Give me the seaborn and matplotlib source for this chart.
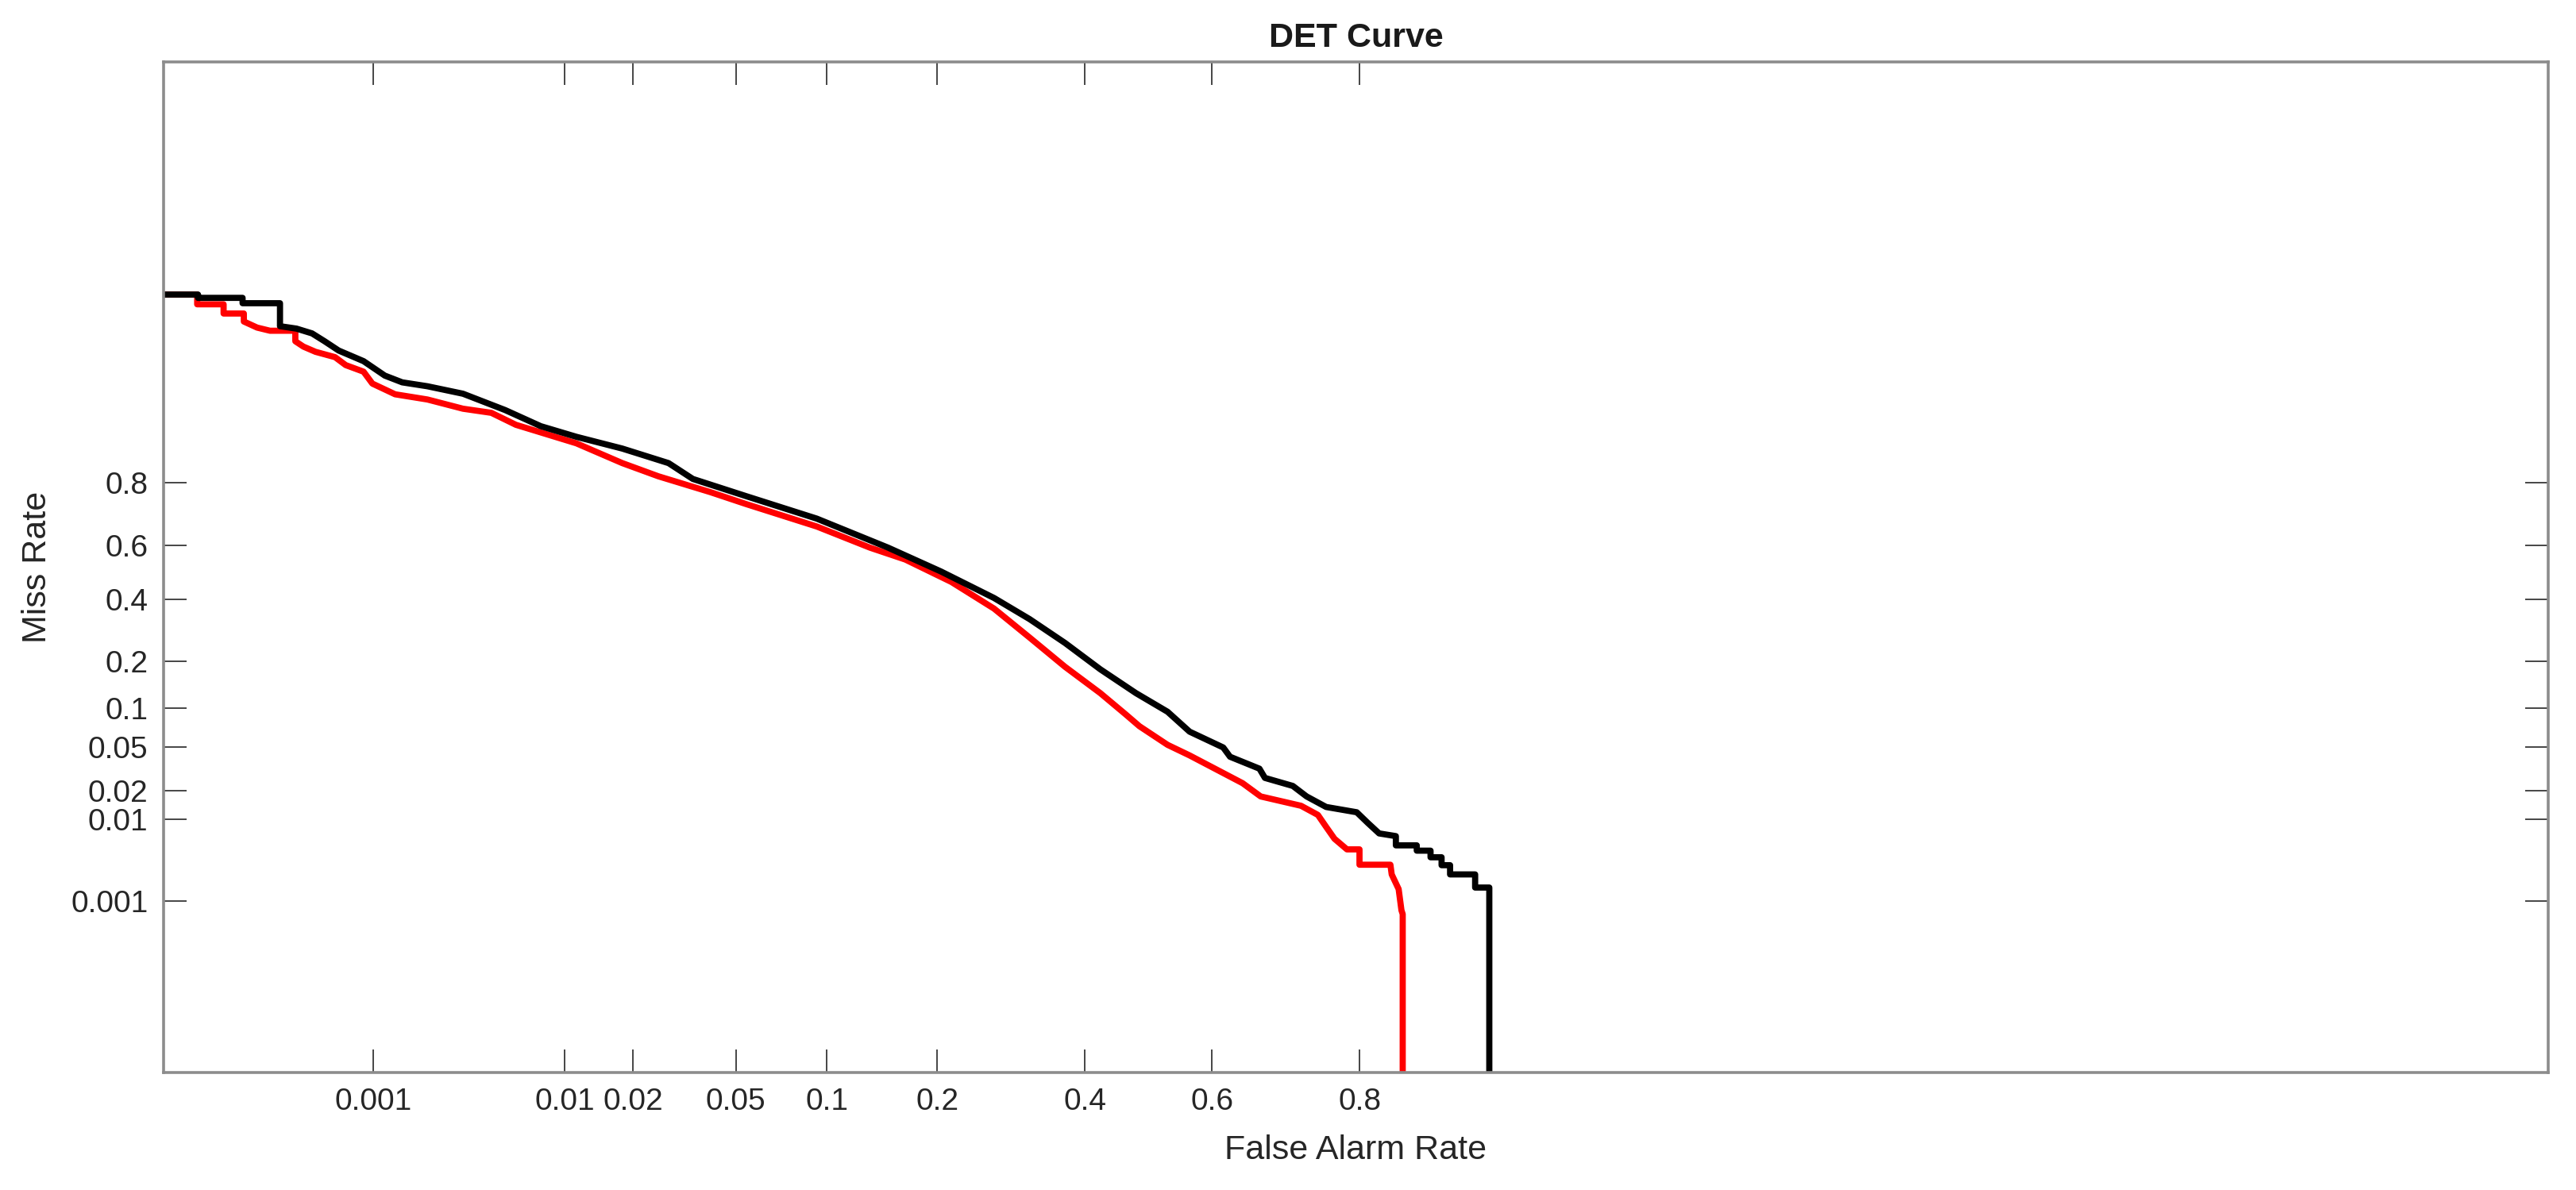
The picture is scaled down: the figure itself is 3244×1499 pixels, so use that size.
import math
import numpy as np
import pandas as pd
import matplotlib
matplotlib.use("Agg")
import matplotlib.pyplot as plt
import seaborn as sns
from statistics import NormalDist
from matplotlib.ticker import FixedLocator, FixedFormatter, NullLocator

# ---- data (false alarm rate, miss rate) ----
black_fa = [0.0, 7.6e-5, 7.6e-5, 1.53e-4, 1.53e-4, 2.69e-4, 2.69e-4, 3.43e-4, 4.29e-4,
            5.13e-4, 6.25e-4, 8.80e-4, 1.17e-3, 1.47e-3, 2.03e-3, 3.15e-3, 5.18e-3,
            7.72e-3, 0.0113, 0.0180, 0.0279, 0.0347, 0.0544, 0.0931, 0.1497, 0.2041,
            0.2691, 0.3179, 0.3697, 0.4239, 0.4801, 0.5303, 0.5651, 0.6171, 0.6274,
            0.6708, 0.6787, 0.7174, 0.7357, 0.7605, 0.7967, 0.8089, 0.8210, 0.8379,
            0.8379, 0.8575, 0.8575, 0.8695, 0.8695, 0.8786, 0.8786, 0.8853, 0.8853,
            0.9035, 0.9035, 0.9128, 0.9128]
black_miss = [0.99547, 0.99547, 0.99504, 0.99504, 0.99427, 0.99427, 0.98962, 0.98897,
              0.98760, 0.98502, 0.98139, 0.97634, 0.96767, 0.96281, 0.95972, 0.95325,
              0.93619, 0.9150, 0.8984, 0.8773, 0.8473, 0.8095, 0.7625, 0.6925, 0.5910,
              0.5024, 0.4040, 0.3292, 0.2527, 0.1804, 0.1276, 0.0946, 0.0668, 0.0496,
              0.0413, 0.0323, 0.0265, 0.0222, 0.01747, 0.01362, 0.01198, 0.00919,
              0.00701, 0.00653, 0.00510, 0.00510, 0.00441, 0.00441, 0.00367, 0.00367,
              0.00293, 0.00293, 0.00224, 0.00224, 0.00151, 0.00151, 0.0]

red_fa = [0.0, 7.5e-5, 7.5e-5, 1.14e-4, 1.14e-4, 1.56e-4, 1.56e-4, 1.91e-4, 2.32e-4,
          3.37e-4, 3.37e-4, 3.79e-4, 4.51e-4, 5.94e-4, 6.89e-4, 8.80e-4, 9.91e-4,
          1.34e-3, 2.03e-3, 3.15e-3, 4.41e-3, 5.85e-3, 0.0113, 0.0180, 0.0254, 0.0404,
          0.0544, 0.0931, 0.1335, 0.1663, 0.2162, 0.2691, 0.3179, 0.3697, 0.4239,
          0.4637, 0.4856, 0.5303, 0.5651, 0.6083, 0.6462, 0.6726, 0.7284, 0.7502,
          0.7605, 0.7707, 0.7855, 0.7998, 0.7998, 0.8325, 0.8338, 0.8406, 0.8433,
          0.8445, 0.8445]
red_miss = [0.99547, 0.99547, 0.99410, 0.99410, 0.99248, 0.99248, 0.99077, 0.98925,
            0.98838, 0.98838, 0.98502, 0.98301, 0.98083, 0.97837, 0.97420, 0.97025,
            0.96185, 0.95273, 0.94771, 0.93777, 0.9329, 0.9170, 0.8871, 0.8473, 0.8162,
            0.7740, 0.7389, 0.6660, 0.5910, 0.5470, 0.4630, 0.3658, 0.2691, 0.1867,
            0.1276, 0.0906, 0.0737, 0.0522, 0.0424, 0.0314, 0.0236, 0.01747, 0.01401,
            0.01122, 0.00831, 0.00609, 0.00457, 0.00457, 0.00297, 0.00297, 0.00224,
            0.00144, 0.000738, 0.00065, 0.0]

tick_values = [0.001, 0.01, 0.02, 0.05, 0.1, 0.2, 0.4, 0.6, 0.8]
tick_labels = ["0.001", "0.01", "0.02", "0.05", "0.1", "0.2", "0.4", "0.6", "0.8"]

df = pd.concat([
    pd.DataFrame({"fa": red_fa, "miss": red_miss, "system": "red"}),
    pd.DataFrame({"fa": black_fa, "miss": black_miss, "system": "black"}),
], ignore_index=True)

# ---- normal-deviate (probit) scale ----
_nd = NormalDist()


def _ppf1(p):
    p = float(p)
    if not math.isfinite(p):
        return float("nan")
    return _nd.inv_cdf(min(max(p, 1e-15), 1 - 1e-15))


def _cdf1(z):
    z = float(z)
    if math.isnan(z):
        return float("nan")
    return _nd.cdf(z)


_ppf = np.vectorize(_ppf1, otypes=[float])
_cdf = np.vectorize(_cdf1, otypes=[float])


def forward(p):
    return _ppf(np.asarray(p, dtype=float))


def inverse(z):
    return _cdf(np.asarray(z, dtype=float))


sns.set_theme(style="white")
plt.rcParams["font.family"] = ["Liberation Sans", "DejaVu Sans"]

fig = plt.figure(figsize=(16.22, 7.495), dpi=200)
ax = fig.add_axes([0.0635, 0.0988, 0.9257, 0.8489])

sns.lineplot(data=df, x="fa", y="miss", hue="system", hue_order=["red", "black"],
             palette={"red": "#ff0000", "black": "#000000"}, sort=False,
             estimator=None, legend=False, linewidth=2.8, ax=ax)

ax.set_xscale("function", functions=(forward, inverse))
ax.set_yscale("function", functions=(forward, inverse))
ax.set_xlim(_nd.cdf(-3.925), _nd.cdf(5.578))
ax.set_ylim(_nd.cdf(-4.704), _nd.cdf(4.794))

for axis in (ax.xaxis, ax.yaxis):
    axis.set_major_locator(FixedLocator(tick_values))
    axis.set_major_formatter(FixedFormatter(tick_labels))
    axis.set_minor_locator(NullLocator())

ax.tick_params(axis="both", which="major", direction="in", length=10.5, width=0.6,
               color="#262626", top=True, right=True, bottom=True, left=True,
               labelsize=14, labelcolor="#262626")
ax.tick_params(axis="x", pad=7)
ax.tick_params(axis="y", pad=7)

for s in ax.spines.values():
    s.set_color("#8c8c8c")
    s.set_linewidth(1.3)
    s.set_visible(True)

ax.set_xlabel("False Alarm Rate", fontsize=15.5, color="#262626", labelpad=8)
ax.set_ylabel("Miss Rate", fontsize=15.5, color="#262626", labelpad=8)
ax.set_title("DET Curve", fontsize=15.5, fontweight="bold", color="#1a1a1a", pad=7)
ax.grid(False)

fig.savefig("out.png", dpi=200, facecolor="white")
